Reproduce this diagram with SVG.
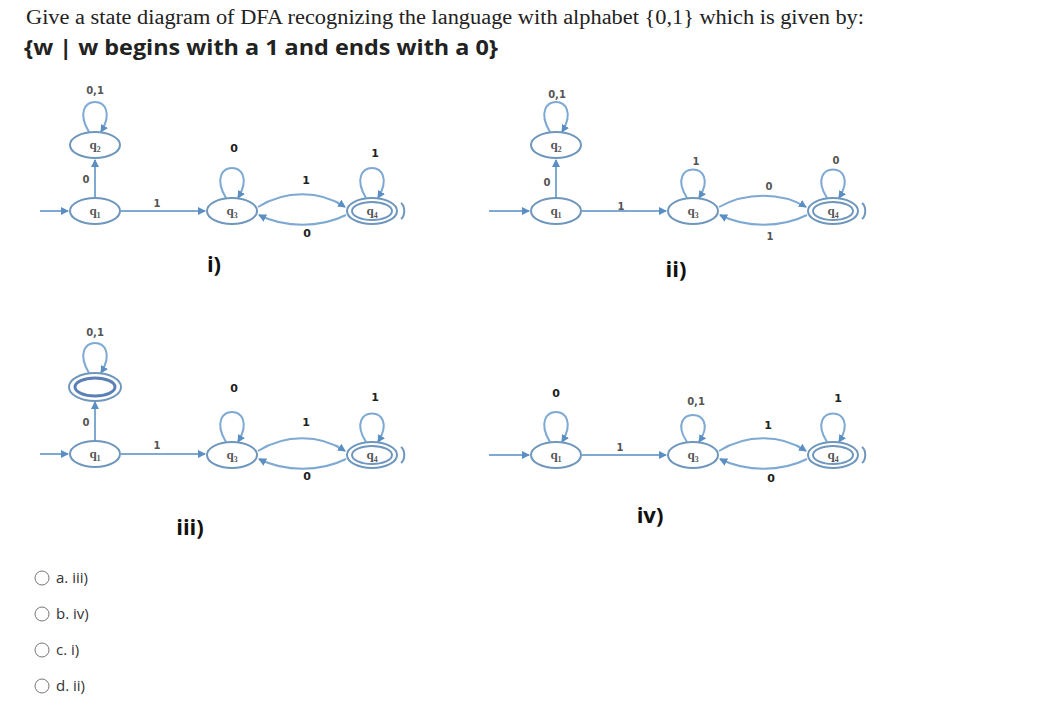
<svg xmlns="http://www.w3.org/2000/svg" width="1056" height="717" viewBox="0 0 1056 717">
<style>
.s{fill:#fff;stroke:#6f97bd;stroke-width:2}
.e{fill:none;stroke:#7ea9d3;stroke-width:2}
.q{font-family:"Liberation Serif",serif;font-size:13px;font-weight:bold;fill:#555;text-anchor:middle}
.l{font-family:"DejaVu Sans",sans-serif;font-size:10px;font-weight:bold;fill:#555;text-anchor:middle}
.b{font-family:"DejaVu Sans",sans-serif;font-size:11px;font-weight:bold;fill:#222;text-anchor:middle}
.t{font-family:"Open Sans",sans-serif;font-size:22px;font-weight:bold;fill:#111;text-anchor:middle}
.o{font-family:"Open Sans",sans-serif;font-size:15px;fill:#333}
.r{fill:#fff;stroke:#777;stroke-width:1}
</style>
<defs>
<marker id="a" markerWidth="8" markerHeight="8" refX="7" refY="4" orient="auto" markerUnits="userSpaceOnUse"><path d="M0,0 L8,4 L0,8z" fill="#5b8fc4"/></marker>
</defs>
<rect width="1056" height="717" fill="#fff"/>
<text x="26" y="24" textLength="838" lengthAdjust="spacingAndGlyphs" style="font-family:'Liberation Serif',serif;font-size:20px;fill:#222">Give a state diagram of DFA recognizing the language with alphabet {0,1} which is given by:</text>
<text x="24" y="55" textLength="474" lengthAdjust="spacingAndGlyphs" style="font-family:'Open Sans',sans-serif;font-size:22px;font-weight:bold;fill:#222">{w | w begins with a 1 and ends with a 0}</text>

<g id="connectors">
<!-- i -->
<path class="e" d="M40,211 H68" marker-end="url(#a)"/>
<path class="e" d="M95,198 V160" marker-end="url(#a)"/>
<path class="e" d="M89,132 C65,92 125,92 101,132" marker-end="url(#a)"/>
<path class="e" d="M121,211 H205" marker-end="url(#a)"/>
<path class="e" d="M226,198 C202,158 262,158 238,198" marker-end="url(#a)"/>
<path class="e" d="M258,207 C285,190 320,190 345,207" marker-end="url(#a)"/>
<path class="e" d="M346,215 C320,228 285,228 259,215" marker-end="url(#a)"/>
<path class="e" d="M366,198 C342,158 402,158 378,198" marker-end="url(#a)"/>
<!-- ii -->
<path class="e" d="M489,211 H529" marker-end="url(#a)"/>
<path class="e" d="M556,198 V160" marker-end="url(#a)"/>
<path class="e" d="M550,132 C526,92 586,92 562,132" marker-end="url(#a)"/>
<path class="e" d="M582,211 H666" marker-end="url(#a)"/>
<path class="e" d="M687,198 C663,160 723,160 699,198" marker-end="url(#a)"/>
<path class="e" d="M719,207 C746,192 781,192 806,207" marker-end="url(#a)"/>
<path class="e" d="M807,215 C781,228 746,228 720,215" marker-end="url(#a)"/>
<path class="e" d="M827,198 C803,160 863,160 839,198" marker-end="url(#a)"/>
<!-- iii -->
<path class="e" d="M40,454 H68" marker-end="url(#a)"/>
<path class="e" d="M95,441 V402" marker-end="url(#a)"/>
<path class="e" d="M89,373 C65,333 125,333 101,373" marker-end="url(#a)"/>
<path class="e" d="M121,454 H205" marker-end="url(#a)"/>
<path class="e" d="M226,442 C202,402 262,402 238,442" marker-end="url(#a)"/>
<path class="e" d="M258,451 C285,434 320,434 345,451" marker-end="url(#a)"/>
<path class="e" d="M346,459 C320,472 285,472 259,459" marker-end="url(#a)"/>
<path class="e" d="M366,442 C342,404 402,404 378,442" marker-end="url(#a)"/>
<!-- iv -->
<path class="e" d="M489,455 H529" marker-end="url(#a)"/>
<path class="e" d="M550,442 C526,402 586,402 562,442" marker-end="url(#a)"/>
<path class="e" d="M582,455 H666" marker-end="url(#a)"/>
<path class="e" d="M687,442 C663,406 723,406 699,442" marker-end="url(#a)"/>
<path class="e" d="M719,451 C746,434 781,434 806,451" marker-end="url(#a)"/>
<path class="e" d="M807,459 C781,472 746,472 720,459" marker-end="url(#a)"/>
<path class="e" d="M827,442 C803,404 863,404 839,442" marker-end="url(#a)"/>
</g>

<g id="i-q1"><ellipse class="s" cx="95" cy="211" rx="25" ry="13"/><text class="q" x="95" y="215">q₁</text></g>
<g id="i-q2"><ellipse class="s" cx="95" cy="145" rx="25" ry="13"/><text class="q" x="95" y="149">q₂</text></g>
<g id="i-q3"><ellipse class="s" cx="232" cy="211" rx="25" ry="13"/><text class="q" x="232" y="215">q₃</text></g>
<g id="i-q4"><ellipse class="s" cx="372" cy="211" rx="25" ry="13"/><ellipse class="s" cx="372" cy="211" rx="20" ry="9"/><path class="s" d="M401,203 A6,9 0 0 1 401,219" fill="none"/><text class="q" x="372" y="215">q₄</text></g>
<g id="i-labels">
<text class="l" x="95" y="94">0,1</text><text class="l" x="86" y="183">0</text><text class="l" x="157" y="207">1</text>
<text class="b" x="234" y="152">0</text><text class="b" x="306" y="184">1</text><text class="b" x="307" y="237">0</text><text class="b" x="375" y="157">1</text>
<text class="t" x="214" y="272">i)</text>
</g>

<g id="ii-q1"><ellipse class="s" cx="556" cy="211" rx="25" ry="13"/><text class="q" x="556" y="215">q₁</text></g>
<g id="ii-q2"><ellipse class="s" cx="556" cy="145" rx="25" ry="13"/><text class="q" x="556" y="149">q₂</text></g>
<g id="ii-q3"><ellipse class="s" cx="693" cy="211" rx="25" ry="13"/><text class="q" x="693" y="215">q₃</text></g>
<g id="ii-q4"><ellipse class="s" cx="833" cy="211" rx="25" ry="13"/><ellipse class="s" cx="833" cy="211" rx="20" ry="9"/><path class="s" d="M862,203 A6,9 0 0 1 862,219" fill="none"/><text class="q" x="833" y="215">q₄</text></g>
<g id="ii-labels">
<text class="l" x="557" y="98">0,1</text><text class="l" x="547" y="186">0</text><text class="l" x="621" y="210">1</text>
<text class="l" x="696" y="165">1</text><text class="l" x="769" y="190">0</text><text class="l" x="770" y="240">1</text><text class="l" x="836" y="164">0</text>
<text class="t" x="676" y="277">ii)</text>
</g>

<g id="iii-q1"><ellipse class="s" cx="95" cy="454" rx="25" ry="13"/><text class="q" x="95" y="458">q₁</text></g>
<g id="iii-q2"><ellipse class="s" cx="95" cy="387" rx="26" ry="14"/><ellipse cx="95" cy="387" rx="20" ry="9" fill="none" stroke="#5b80b5" stroke-width="3"/></g>
<g id="iii-q3"><ellipse class="s" cx="232" cy="455" rx="25" ry="13"/><text class="q" x="232" y="459">q₃</text></g>
<g id="iii-q4"><ellipse class="s" cx="372" cy="455" rx="25" ry="13"/><ellipse class="s" cx="372" cy="455" rx="20" ry="9"/><path class="s" d="M401,447 A6,9 0 0 1 401,463" fill="none"/><text class="q" x="372" y="459">q₄</text></g>
<g id="iii-labels">
<text class="l" x="95" y="336">0,1</text><text class="l" x="86" y="426">0</text><text class="l" x="157" y="449">1</text>
<text class="b" x="234" y="392">0</text><text class="b" x="306" y="426">1</text><text class="b" x="307" y="480">0</text><text class="b" x="375" y="401">1</text>
<text class="t" x="190" y="535">iii)</text>
</g>

<g id="iv-q1"><ellipse class="s" cx="556" cy="455" rx="25" ry="13"/><text class="q" x="556" y="459">q₁</text></g>
<g id="iv-q3"><ellipse class="s" cx="693" cy="455" rx="25" ry="13"/><text class="q" x="693" y="459">q₃</text></g>
<g id="iv-q4"><ellipse class="s" cx="833" cy="455" rx="25" ry="13"/><ellipse class="s" cx="833" cy="455" rx="20" ry="9"/><path class="s" d="M862,447 A6,9 0 0 1 862,463" fill="none"/><text class="q" x="833" y="459">q₄</text></g>
<g id="iv-labels">
<text class="b" x="556" y="397">0</text><text class="l" x="620" y="451">1</text><text class="l" x="696" y="405">0,1</text>
<text class="b" x="768" y="429">1</text><text class="b" x="771" y="482">0</text><text class="b" x="838" y="402">1</text>
<text class="t" x="650" y="523">iv)</text>
</g>

<g id="options">
<circle class="r" cx="42" cy="578" r="7"/><text class="o" x="56" y="583">a. iii)</text>
<circle class="r" cx="42" cy="614" r="7"/><text class="o" x="56" y="619">b. iv)</text>
<circle class="r" cx="42" cy="650" r="7"/><text class="o" x="56" y="655">c. i)</text>
<circle class="r" cx="42" cy="686" r="7"/><text class="o" x="56" y="691">d. ii)</text>
</g>
</svg>
